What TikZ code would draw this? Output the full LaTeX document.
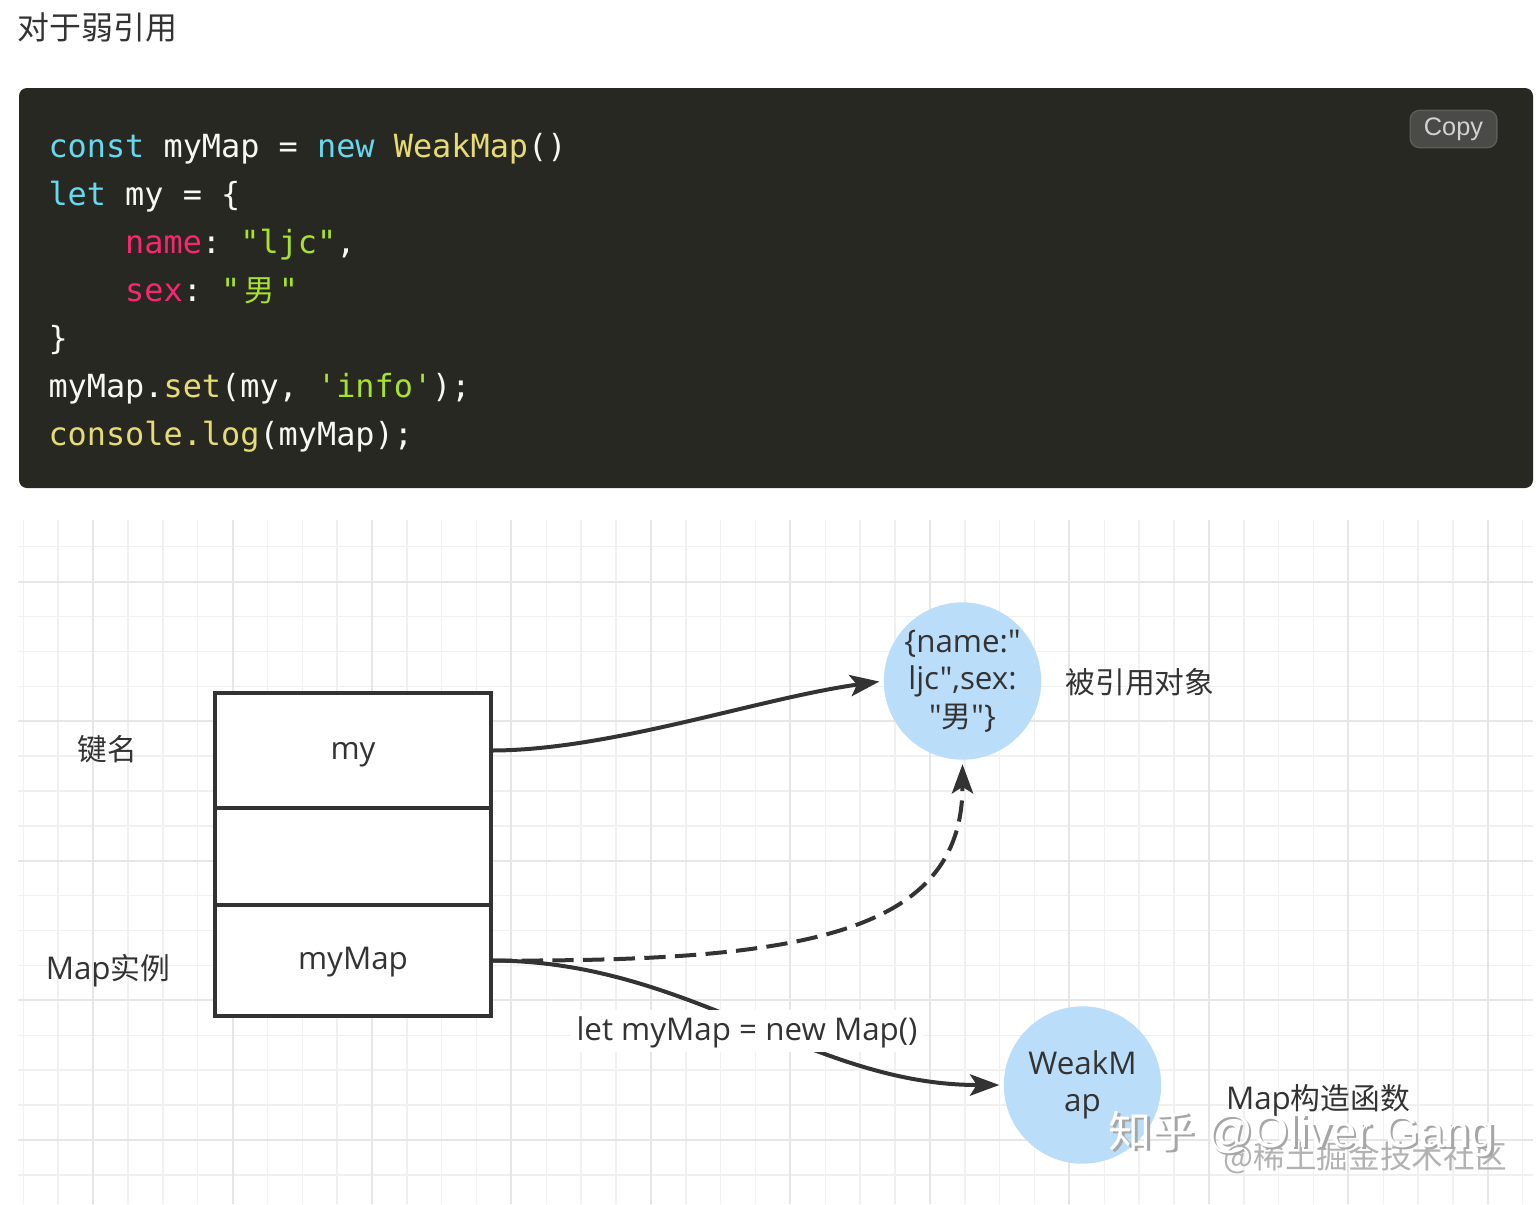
\documentclass[tikz,border=0pt]{standalone}
\usepackage{fontspec}
\usetikzlibrary{arrows.meta,positioning}

\newfontfamily\cjk{Noto Sans CJK SC}[Scale=0.95]
\newfontfamily\dgfont{Open Sans}
\newfontfamily\codefont{DejaVu Sans Mono}
\newfontfamily\btnfont{Liberation Sans}

\definecolor{codebg}{HTML}{272822}
\definecolor{codefg}{HTML}{F8F8F2}
\definecolor{codekw}{HTML}{66D9EF}
\definecolor{codefn}{HTML}{E6DB74}
\definecolor{codepr}{HTML}{F92672}
\definecolor{codest}{HTML}{A6E22E}
\definecolor{btnbg}{HTML}{4A4A47}
\definecolor{btnedge}{HTML}{5C5C59}
\definecolor{btntext}{HTML}{D2D2D2}
\definecolor{inkgrey}{HTML}{333333}
\definecolor{gridthin}{HTML}{F0F0F0}
\definecolor{gridthick}{HTML}{E6E6E6}
\definecolor{objblue}{HTML}{BADDF9}

\newcommand{\ckw}[1]{\textcolor{codekw}{#1}}
\newcommand{\cfn}[1]{\textcolor{codefn}{#1}}
\newcommand{\cpr}[1]{\textcolor{codepr}{#1}}
\newcommand{\cstr}[1]{\textcolor{codest}{#1}}

\tikzset{every picture/.style={line width=0.75pt}}
\tikzset{
  codeline/.style={anchor=base west, inner sep=0pt, text=codefg, font=\codefont\fontsize{23.9}{28}\selectfont\frenchspacing},
  copybtn/.style={rounded corners=7pt, fill=btnbg, draw=btnedge, line width=1pt, minimum width=65pt, minimum height=28pt, inner sep=0pt, text=btntext, font=\btnfont\fontsize{19}{22}\selectfont},
  dgtext/.style={inner sep=0pt, text=inkgrey, font=\dgfont\fontsize{23.5}{28}\selectfont, text height=18pt, text depth=4.5pt},
  cell/.style={dgtext, draw=inkgrey, line width=3pt, fill=white, minimum width=207pt, outer sep=0pt},
  objcirc/.style={circle, fill=objblue, minimum size=118pt, inner sep=0pt, align=center, text=inkgrey, font=\dgfont\fontsize{23.5}{28}\selectfont},
  link/.style={draw=inkgrey, line width=3pt, -{Stealth[length=22pt,width=16pt,inset=5pt]}, shorten >=3pt},
  thinline/.style={draw=gridthin, line width=1.1pt},
  thickline/.style={draw=gridthick, line width=1.5pt},
}

\begin{document}
\begin{tikzpicture}[x=0.75pt,y=0.75pt,yscale=-1,xscale=1]
	\useasboundingbox (0,0) rectangle (1540,1204);
	\fill[white] (0,0) rectangle (1540,1204);

	% Text Node
	\node[anchor=west, inner sep=0pt, text=inkgrey, font=\cjk\fontsize{25.2}{28}\selectfont] (title) at (17,27) {对于弱引用};

	%Shape: Rounded Rect [code block]
	\fill[codebg, rounded corners=6pt] (19,88) rectangle (1533,488);
	\node[copybtn] (copy) at (1453.5,129) {Copy};

	% Code lines
	\node[codeline] (line1) at (48,157) {\ckw{const} myMap = \ckw{new} \cfn{WeakMap}()};
	\node[codeline] (line2) at (48,205) {\ckw{let} my = \{};
	\node[codeline] (line3) at (48,253) {\phantom{xxxx}\cpr{name}: \cstr{"ljc"},};
	\node[codeline] (line4) at (48,301) {\phantom{xxxx}\cpr{sex}: \cstr{"\makebox[28.8pt]{\cjk 男}"}};
	\node[codeline] (line5) at (48,349) {\}};
	\node[codeline] (line6) at (48,397) {myMap.\cfn{set}(my, \cstr{'info'});};
	\node[codeline] (line7) at (48,445) {\cfn{console.log}(myMap);};

	%Shape: Grid
	\foreach \k in {0,...,43}
		\draw[thinline] ({23.3+34.87*\k},520) -- ({23.3+34.87*\k},1204);
	\foreach \j in {0,...,18}
		\draw[thinline] (18,{546.7+34.9*\j}) -- (1533,{546.7+34.9*\j});
	\foreach \k in {2,6,...,42}
		\draw[thickline] ({23.3+34.87*\k},520) -- ({23.3+34.87*\k},1204);
	\foreach \j in {1,5,...,17}
		\draw[thickline] (18,{546.7+34.9*\j}) -- (1533,{546.7+34.9*\j});

	%Shape: Rectangle [map cells]
	\node[cell, minimum height=86.25pt] (kmy) at (353,750.5) {my};
	\node[cell, minimum height=72.75pt, below=0pt of kmy] (kgap) {};
	\node[cell, minimum height=83.25pt, below=0pt of kgap] (kmap) {myMap};

	% Text Node
	\node[dgtext] (keylbl) at (107.5,751) {\cjk 键名};
	% Text Node
	\node[dgtext] (maplbl) at (108,970) {Map{\cjk 实例}};
	% Text Node
	\node[dgtext] (objlbl) at (1140,684) {\cjk 被引用对象};
	% Text Node
	\node[dgtext] (ctorlbl) at (1318,1100) {Map{\cjk 构造函数}};

	%Shape: Circle
	\node[objcirc] (obj) at (962.5,681) {\{name:"\\ljc",sex:\\"{\cjk 男}"\}};
	%Shape: Circle
	\node[objcirc] (wmap) at (1082.5,1085) {WeakM\\ap};

	%Curve Lines
	\draw[link] (kmy.east) .. controls (610,750.5) and (760,698) .. (obj.west);
	\draw[link, dash pattern=on 16pt off 7pt] (kmap.east) .. controls (800,962) and (962.5,935) .. (obj.south);
	\draw[link] (kmap.east) .. controls (690,960.5) and (810,1085) .. (wmap.west);

	% Text Node
	\node[dgtext, fill=white, inner sep=4.5pt] (newmap) at (747,1031) {let myMap = new Map()};

	% Watermarks
	\node[anchor=west, inner sep=0pt, text=gray!60, font=\cjk\fontsize{25}{28}\selectfont] (jjmark) at (1223,1158) {@稀土掘金技术社区};
	\node[anchor=west, inner sep=0pt, text=gray!70, font=\btnfont\fontsize{34}{36}\selectfont] (zhshade) at (1110.5,1136.5) {{\cjk 知乎} @Oliver Gang};
	\node[anchor=west, inner sep=0pt, text=white, font=\btnfont\fontsize{34}{36}\selectfont] (zhmark) at (1108,1134) {{\cjk 知乎} @Oliver Gang};

\end{tikzpicture}
\end{document}
